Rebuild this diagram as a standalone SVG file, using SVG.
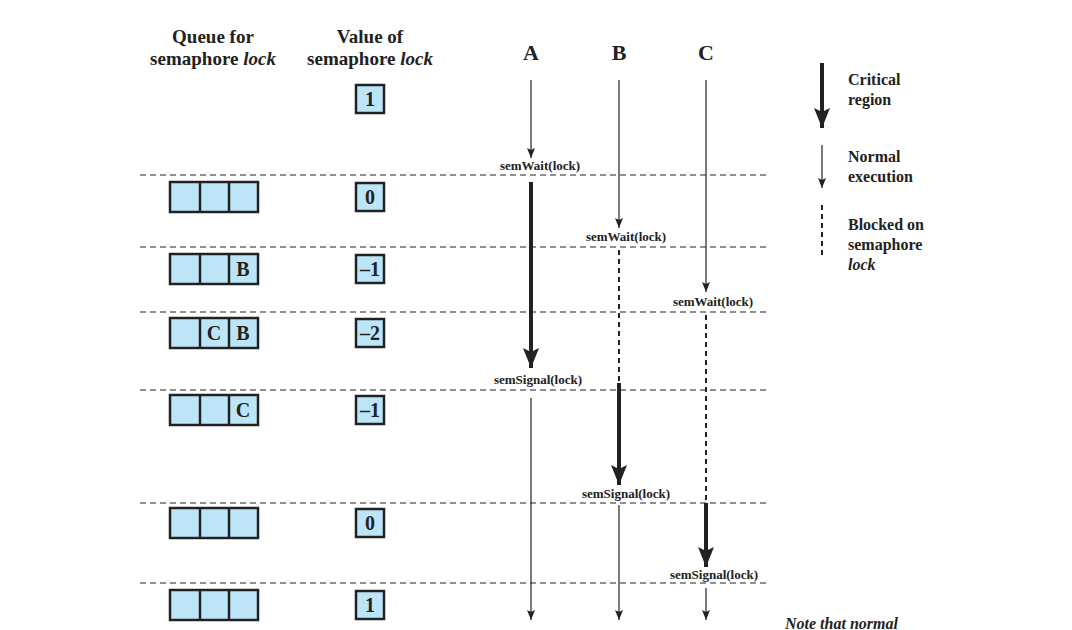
<svg xmlns="http://www.w3.org/2000/svg" width="1072" height="630" viewBox="0 0 1072 630">
<defs>
<marker id="ah" markerWidth="10" markerHeight="8" refX="10" refY="4" orient="auto" markerUnits="userSpaceOnUse"><path d="M0,0 L10,4 L0,8 L2,4 Z" fill="#222"/></marker>
<marker id="ahb" markerWidth="20" markerHeight="16" refX="20" refY="8" orient="auto" markerUnits="userSpaceOnUse"><path d="M0,0 L20,8 L0,16 L4,8 Z" fill="#222"/></marker>
<style>
text{font-family:"Liberation Serif","Times New Roman",serif;fill:#222;font-weight:bold}
.h{font-size:19px;text-anchor:middle}
.p{font-size:22px;text-anchor:middle}
.l{font-size:13px;text-anchor:middle}
.lg{font-size:16px}
.v{font-size:20px;text-anchor:middle}
.box{fill:#bde5f8;stroke:#222;stroke-width:2.5}
.dash{stroke:#222;stroke-width:1.2;stroke-dasharray:6,4}
.thin{stroke:#222;stroke-width:1.2;marker-end:url(#ah)}
.thick{stroke:#222;stroke-width:4;marker-end:url(#ahb)}
.blk{stroke:#222;stroke-width:2;stroke-dasharray:5,4}
</style>
</defs>
<rect width="1072" height="630" fill="#fff"/>
<g id="headers">
<text class="h" x="213" y="43">Queue for</text>
<text class="h" x="213" y="65">semaphore <tspan font-style="italic">lock</tspan></text>
<text class="h" x="370" y="43">Value of</text>
<text class="h" x="370" y="65">semaphore <tspan font-style="italic">lock</tspan></text>
<text class="p" x="531" y="60">A</text>
<text class="p" x="619" y="60">B</text>
<text class="p" x="706" y="60">C</text>
</g>
<g id="separators">
<line class="dash" x1="140" y1="175" x2="768" y2="175"/>
<line class="dash" x1="140" y1="247" x2="768" y2="247"/>
<line class="dash" x1="140" y1="312" x2="768" y2="312"/>
<line class="dash" x1="140" y1="390" x2="768" y2="390"/>
<line class="dash" x1="140" y1="503" x2="768" y2="503"/>
<line class="dash" x1="140" y1="583" x2="768" y2="583"/>
</g>
<g id="values">
<rect class="box" x="356" y="85" width="28" height="28"/><text class="v" x="370" y="106">1</text>
<rect class="box" x="356" y="183" width="28" height="28"/><text class="v" x="370" y="204">0</text>
<rect class="box" x="356" y="255" width="28" height="28"/><text class="v" x="370" y="276">–1</text>
<rect class="box" x="356" y="319" width="28" height="28"/><text class="v" x="370" y="340">–2</text>
<rect class="box" x="356" y="396" width="28" height="28"/><text class="v" x="370" y="417">–1</text>
<rect class="box" x="356" y="509" width="28" height="28"/><text class="v" x="370" y="530">0</text>
<rect class="box" x="356" y="591" width="28" height="28"/><text class="v" x="370" y="612">1</text>
</g>
<g id="queues">
<g id="q1"><rect class="box" x="170" y="182" width="88" height="30"/><line x1="200" y1="182" x2="200" y2="212" stroke="#222" stroke-width="2.5"/><line x1="229" y1="182" x2="229" y2="212" stroke="#222" stroke-width="2.5"/></g>
<g id="q2"><rect class="box" x="170" y="254" width="88" height="30"/><line x1="200" y1="254" x2="200" y2="284" stroke="#222" stroke-width="2.5"/><line x1="229" y1="254" x2="229" y2="284" stroke="#222" stroke-width="2.5"/><text class="v" x="243" y="276">B</text></g>
<g id="q3"><rect class="box" x="170" y="318" width="88" height="30"/><line x1="200" y1="318" x2="200" y2="348" stroke="#222" stroke-width="2.5"/><line x1="229" y1="318" x2="229" y2="348" stroke="#222" stroke-width="2.5"/><text class="v" x="214" y="340">C</text><text class="v" x="243" y="340">B</text></g>
<g id="q4"><rect class="box" x="170" y="395" width="88" height="30"/><line x1="200" y1="395" x2="200" y2="425" stroke="#222" stroke-width="2.5"/><line x1="229" y1="395" x2="229" y2="425" stroke="#222" stroke-width="2.5"/><text class="v" x="243" y="417">C</text></g>
<g id="q5"><rect class="box" x="170" y="508" width="88" height="30"/><line x1="200" y1="508" x2="200" y2="538" stroke="#222" stroke-width="2.5"/><line x1="229" y1="508" x2="229" y2="538" stroke="#222" stroke-width="2.5"/></g>
<g id="q6"><rect class="box" x="170" y="590" width="88" height="30"/><line x1="200" y1="590" x2="200" y2="620" stroke="#222" stroke-width="2.5"/><line x1="229" y1="590" x2="229" y2="620" stroke="#222" stroke-width="2.5"/></g>
</g>
<g id="connectors">
<line class="thin" x1="531" y1="80" x2="531" y2="158"/>
<line class="thick" x1="531" y1="182" x2="531" y2="368"/>
<line class="thin" x1="531" y1="398" x2="531" y2="620"/>
<line class="thin" x1="619" y1="80" x2="619" y2="228"/>
<line class="blk" x1="619" y1="250" x2="619" y2="381"/>
<line class="thick" x1="619" y1="383" x2="619" y2="485"/>
<line class="thin" x1="619" y1="505" x2="619" y2="620"/>
<line class="thin" x1="706" y1="80" x2="706" y2="292"/>
<line class="blk" x1="706" y1="315" x2="706" y2="501"/>
<line class="thick" x1="706" y1="503" x2="706" y2="567"/>
<line class="thin" x1="706" y1="588" x2="706" y2="620"/>
</g>
<g id="labels">
<text class="l" x="540" y="170">semWait(lock)</text>
<text class="l" x="626" y="241">semWait(lock)</text>
<text class="l" x="713" y="306">semWait(lock)</text>
<text class="l" x="538" y="384">semSignal(lock)</text>
<text class="l" x="626" y="498">semSignal(lock)</text>
<text class="l" x="714" y="579">semSignal(lock)</text>
</g>
<g id="legend">
<line class="thick" x1="822" y1="63" x2="822" y2="128"/>
<text class="lg" x="848" y="85">Critical</text>
<text class="lg" x="848" y="105">region</text>
<line class="thin" x1="822" y1="145" x2="822" y2="188"/>
<text class="lg" x="848" y="162">Normal</text>
<text class="lg" x="848" y="182">execution</text>
<line class="blk" x1="822" y1="205" x2="822" y2="257"/>
<text class="lg" x="848" y="230">Blocked on</text>
<text class="lg" x="848" y="250">semaphore</text>
<text class="lg" x="848" y="270" font-style="italic">lock</text>
<text class="lg" x="785" y="629" font-style="italic">Note that normal</text>
</g>
</svg>
